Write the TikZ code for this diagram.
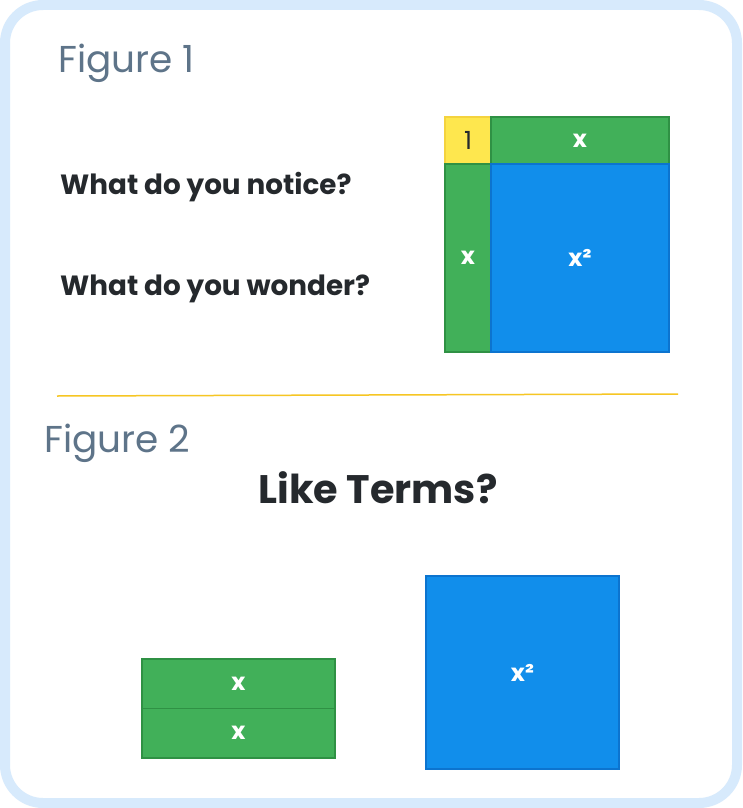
\documentclass[tikz,border=0pt]{standalone}
\usepackage{fontspec}
\setmainfont{Poppins}
\usepackage{tikz}
\usetikzlibrary{calc}

\definecolor{framebg}{HTML}{D7EAFC}
\definecolor{figgray}{HTML}{5E7489}
\definecolor{ink}{HTML}{25292D}
\definecolor{tilegreen}{HTML}{41B059}
\definecolor{greenedge}{HTML}{2F9144}
\definecolor{tileblue}{HTML}{118EEB}
\definecolor{blueedge}{HTML}{0C74CF}
\definecolor{tileyellow}{HTML}{FEE74E}
\definecolor{yellowedge}{HTML}{F4D33F}
\definecolor{rulegold}{HTML}{F6C623}

\tikzset{
    tile/.style={draw, line width=1.5pt, inner sep=0pt, outer sep=0pt, anchor=north west,
        text=white, font=\fontsize{24}{24}\selectfont\bfseries},
    xtile/.style={tile, fill=tilegreen, draw=greenedge},
    sqtile/.style={tile, fill=tileblue, draw=blueedge},
    unittile/.style={tile, fill=tileyellow, draw=yellowedge, text=ink, font=\fontsize{25}{25}\selectfont},
    question/.style={anchor=base west, inner sep=0pt, text=ink, font=\fontsize{27.8}{28}\selectfont\bfseries},
    figlabel/.style={anchor=base west, inner sep=0pt, text=figgray, font=\fontsize{37.4}{38}\selectfont}
}

\begin{document}
\begin{tikzpicture}[x=1pt,y=-1pt]
            \useasboundingbox (0,0) rectangle (742,808);
            \fill[white] (0,0) rectangle (742,808);
            \draw[framebg, line width=10pt, rounded corners=38pt] (5,5) rectangle (737,803);

            \node[figlabel] (fig1) at (58,72) {Figure 1};
            \node[question] (notice) at (60,194) {What do you notice?};
            \node[question] (wonder) at (60,295) {What do you wonder?};

            \node[unittile, minimum width=46pt, minimum height=47pt] (one) at (445,117) {1};
            \node[xtile, minimum width=178pt, minimum height=47pt] (xtop) at (491,117) {x};
            \node[xtile, minimum width=46pt, minimum height=188pt] (xleft) at (445,164) {x};
            \node[sqtile, minimum width=178pt, minimum height=188pt] (sqtop) at (491,164) {x²};

            \draw[rulegold, line width=1.5pt] (57,396) -- (678,394);

            \node[figlabel] (fig2) at (44,452) {Figure 2};
            \node[question, anchor=base, font=\fontsize{39.8}{40}\selectfont\bfseries] (title) at (378,503) {Like Terms?};

            \foreach \y/\n in {659/xa,708.5/xb}{
                \node[xtile, minimum width=193pt, minimum height=49.5pt] (\n) at (142,\y) {x};
            }
            \node[sqtile, minimum width=193pt, minimum height=193pt] (sqbot) at (426,576) {x²};
\end{tikzpicture}
\end{document}
